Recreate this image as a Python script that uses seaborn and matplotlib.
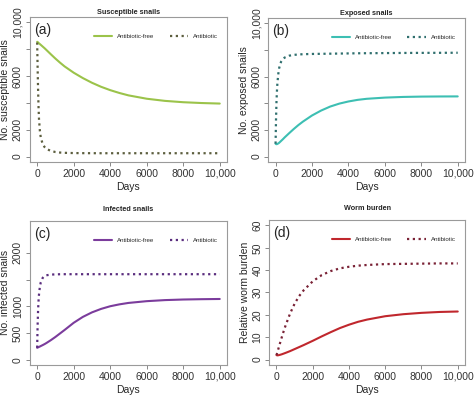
import numpy as np
import pandas as pd
import matplotlib
matplotlib.use("Agg")
import matplotlib.pyplot as plt
import seaborn as sns

days = [0, 25, 50, 75, 100, 150, 200, 300, 400, 500, 750, 1000, 1250, 1500,
        2000, 2500, 3000, 3500, 4000, 4500, 5000, 6000, 7000, 8000, 9000, 10000]

# (a) susceptible snails
susc_free = [8550, 8540, 8500, 8470, 8430, 8380, 8320, 8200, 8080, 7950, 7620,
             7300, 7000, 6720, 6250, 5850, 5500, 5200, 4950, 4740, 4560, 4310,
             4150, 4050, 3990, 3950]
susc_abx = [8500, 6600, 5000, 3700, 2800, 1900, 1400, 950, 720, 580, 420,
            340, 300, 280, 262, 255, 252, 250, 250, 250, 250, 250,
            250, 250, 250, 250]
# (b) exposed snails
exp_free = [970, 940, 930, 935, 950, 990, 1040, 1170, 1300, 1440, 1760,
            2070, 2360, 2620, 3080, 3450, 3750, 3970, 4130, 4250, 4330, 4420,
            4470, 4495, 4505, 4510]
exp_abx = [970, 2800, 4100, 4900, 5500, 6200, 6650, 7100, 7300, 7420, 7560,
           7620, 7650, 7670, 7690, 7700, 7710, 7720, 7730, 7740, 7745, 7755,
           7765, 7770, 7775, 7780]
# (c) infected snails
inf_free = [222, 225, 230, 234, 238, 246, 255, 272, 290, 310, 365,
            425, 490, 555, 690, 800, 885, 950, 1000, 1035, 1062, 1095,
            1115, 1126, 1132, 1136]
inf_abx = [222, 650, 920, 1100, 1220, 1370, 1450, 1530, 1565, 1580, 1592,
           1597, 1599, 1600, 1600, 1600, 1600, 1600, 1600, 1600, 1600, 1600,
           1600, 1600, 1600, 1600]
# (d) worm burden
worm_free = [2.0, 1.95, 1.9, 1.92, 1.95, 2.05, 2.15, 2.4, 2.7, 3.0, 3.8,
             4.7, 5.6, 6.5, 8.4, 10.4, 12.3, 14.1, 15.6, 16.9, 17.9, 19.4,
             20.3, 20.9, 21.3, 21.5]
worm_abx = [2.0, 2.6, 3.3, 4.0, 4.7, 6.1, 7.5, 10.2, 12.8, 15.2, 20.6,
            25.0, 28.4, 31.0, 35.0, 37.8, 39.6, 40.8, 41.5, 42.0, 42.3, 42.7,
            42.8, 42.9, 43.0, 43.0]

titles = ["Susceptible snails", "Exposed snails", "Infected snails", "Worm burden"]
ylabels = ["No. susceptible snails", "No. exposed snails",
           "No. infected snails", "Relative worm burden"]
panel_tags = ["(a)", "(b)", "(c)", "(d)"]
solid_cols = ["#9bc34a", "#3dbfb3", "#7b3c9c", "#c0272d"]
dot_cols = ["#5c5e3e", "#2f6f6e", "#5a2d7e", "#7a2236"]

sns.set_style("ticks")
plt.rcParams["font.family"] = ["Liberation Sans", "DejaVu Sans"]

fig = plt.figure(figsize=(4.74, 3.95), dpi=100)
boxes = [[0.063, 0.590, 0.416, 0.367],
         [0.566, 0.590, 0.415, 0.365],
         [0.063, 0.076, 0.416, 0.365],
         [0.568, 0.076, 0.413, 0.367]]
title_pads = [2, 2, 7, 7]

series = [(susc_free, susc_abx), (exp_free, exp_abx),
          (inf_free, inf_abx), (worm_free, worm_abx)]
ylims = [(-400, 10400), (-400, 10400), (-100, 2600), (-2.4, 62.4)]
yticks = [[0, 2000, 4000, 6000, 8000, 10000],
          [0, 2000, 4000, 6000, 8000, 10000],
          [0, 500, 1000, 1500, 2000],
          [0, 10, 20, 30, 40, 50, 60]]
yticklabels = [["0", "2000", "", "6000", "", "10,000"],
               ["0", "2000", "", "6000", "", "10,000"],
               ["0", "500", "1000", "", "2000"],
               ["0", "10", "20", "30", "40", "50", "60"]]

for i in range(4):
    ax = fig.add_axes(boxes[i])
    free, abx = series[i]
    df = pd.DataFrame({"Days": days, "free": free, "abx": abx})
    sns.lineplot(data=df, x="Days", y="free", ax=ax, color=solid_cols[i],
                 linewidth=1.5, label="Antibiotic-free")
    sns.lineplot(data=df, x="Days", y="abx", ax=ax, color=dot_cols[i],
                 linewidth=1.6, linestyle=(0, (1, 1.6)), label="Antibiotic")
    ax.set_xlim(-400, 10400)
    ax.set_ylim(*ylims[i])
    ax.set_xticks([0, 2000, 4000, 6000, 8000, 10000])
    ax.set_xticklabels(["0", "2000", "4000", "6000", "8000", "10,000"])
    ax.set_yticks(yticks[i])
    ax.set_yticklabels(yticklabels[i], rotation=90, va="center")
    ax.tick_params(labelsize=7.5, colors="#333333", length=3, width=0.7,
                   color="#888888", pad=2)
    for s in ax.spines.values():
        s.set_visible(True)
        s.set_color("#9a9a9a")
        s.set_linewidth(0.8)
    ax.set_xlabel("Days", fontsize=7.5, labelpad=2)
    ax.set_ylabel(ylabels[i], fontsize=7.5, labelpad=2)
    ax.set_title(titles[i], fontsize=5.2, fontweight="bold", pad=title_pads[i])
    ax.text(0.02, 0.96, panel_tags[i], transform=ax.transAxes, fontsize=10,
            va="top", ha="left")
    ax.legend(loc="upper right", ncol=2, frameon=False, fontsize=4.4,
              handlelength=3, columnspacing=2.5, bbox_to_anchor=(0.98, 0.92))

fig.savefig("out.png", dpi=100)
